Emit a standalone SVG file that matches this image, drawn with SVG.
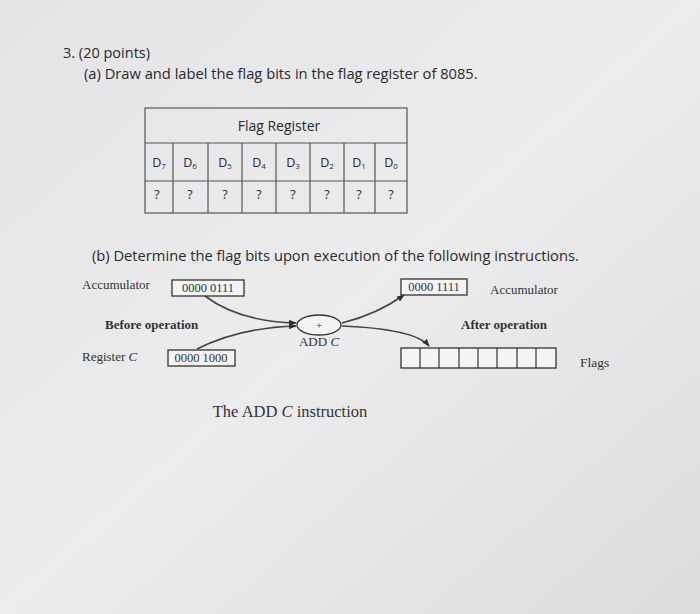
<svg xmlns="http://www.w3.org/2000/svg" width="700" height="614" viewBox="0 0 700 614">
<defs>
<linearGradient id="bg" x1="0" y1="0" x2="1" y2="1"><stop offset="0" stop-color="#e4e4e6"/><stop offset="0.5" stop-color="#ececee"/><stop offset="1" stop-color="#dcdcde"/></linearGradient>
<marker id="ah" markerWidth="8" markerHeight="6" refX="7" refY="3" orient="auto" markerUnits="userSpaceOnUse"><path d="M0,0 L8,3 L0,6 z" fill="#333"/></marker>
<style>
.hw{font-family:"Open Sans","DejaVu Sans",sans-serif;fill:#2a2a2a}
.tb{fill:none;stroke:#555;stroke-width:1.2}
.ser{font-family:"Liberation Serif",serif;fill:#333}
.box{fill:#f4f4f4;stroke:#333;stroke-width:1.3}
.ln{fill:none;stroke:#444;stroke-width:1.6}
</style>
</defs>
<rect width="700" height="614" fill="url(#bg)"/>
<text class="hw" x="63" y="58" font-size="14.5">3. (20 points)</text>
<text class="hw" x="84" y="79" font-size="14.7">(a) Draw and label the flag bits in the flag register of 8085.</text>
<g id="table">
<rect x="145" y="108" width="262" height="105" fill="#f2f2f2" class="tb"/>
<line class="tb" x1="145" y1="143" x2="407" y2="143"/>
<line class="tb" x1="145" y1="181" x2="407" y2="181"/>
<g class="tb">
<line x1="173" y1="143" x2="173" y2="213"/><line x1="208" y1="143" x2="208" y2="213"/><line x1="242" y1="143" x2="242" y2="213"/><line x1="276" y1="143" x2="276" y2="213"/><line x1="310" y1="143" x2="310" y2="213"/><line x1="344" y1="143" x2="344" y2="213"/><line x1="375" y1="143" x2="375" y2="213"/>
</g>
<text class="hw" x="279" y="131" font-size="14" text-anchor="middle">Flag Register</text>
<g font-size="12.5" text-anchor="middle" class="hw">
<text x="159" y="167">D<tspan font-size="8" dy="2">7</tspan></text>
<text x="190" y="167">D<tspan font-size="8" dy="2">6</tspan></text>
<text x="225" y="167">D<tspan font-size="8" dy="2">5</tspan></text>
<text x="259" y="167">D<tspan font-size="8" dy="2">4</tspan></text>
<text x="293" y="167">D<tspan font-size="8" dy="2">3</tspan></text>
<text x="327" y="167">D<tspan font-size="8" dy="2">2</tspan></text>
<text x="359" y="167">D<tspan font-size="8" dy="2">1</tspan></text>
<text x="391" y="167">D<tspan font-size="8" dy="2">0</tspan></text>
<text x="157" y="199">?</text><text x="190" y="199">?</text><text x="225" y="199">?</text><text x="259" y="199">?</text><text x="293" y="199">?</text><text x="327" y="199">?</text><text x="359" y="199">?</text><text x="391" y="199">?</text>
</g>
</g>
<text class="hw" x="92" y="261" font-size="14.7">(b) Determine the flag bits upon execution of the following instructions.</text>
<g id="connectors">
<path class="ln" d="M205,296 C230,315 260,322 296,323" marker-end="url(#ah)"/>
<path class="ln" d="M197,349 C225,335 260,327 296,326" marker-end="url(#ah)"/>
<path class="ln" d="M342,323 C370,316 390,305 404,295" marker-end="url(#ah)"/>
<path class="ln" d="M342,326 C390,328 420,335 429,346" marker-end="url(#ah)"/>
</g>
<g id="acc-before">
<text class="ser" x="82" y="289" font-size="13">Accumulator</text>
<rect class="box" x="172" y="280" width="72" height="16"/>
<text class="ser" x="208" y="292" font-size="12.5" text-anchor="middle">0000 0111</text>
</g>
<text class="ser" x="105" y="329" font-size="13" font-weight="bold">Before operation</text>
<g id="regc">
<text class="ser" x="82" y="361" font-size="13">Register <tspan font-style="italic">C</tspan></text>
<rect class="box" x="168" y="350" width="67" height="16"/>
<text class="ser" x="201" y="362" font-size="12.5" text-anchor="middle">0000 1000</text>
</g>
<g id="add">
<ellipse cx="319" cy="325" rx="22" ry="10" fill="#f4f4f4" stroke="#333" stroke-width="1.3"/>
<text class="ser" x="319" y="329" font-size="11" text-anchor="middle">+</text>
<text class="ser" x="319" y="346" font-size="13" text-anchor="middle">ADD <tspan font-style="italic">C</tspan></text>
</g>
<g id="acc-after">
<rect class="box" x="401" y="279" width="66" height="16"/>
<text class="ser" x="434" y="291" font-size="12.5" text-anchor="middle">0000 1111</text>
<text class="ser" x="490" y="294" font-size="13">Accumulator</text>
</g>
<text class="ser" x="461" y="329" font-size="13" font-weight="bold">After operation</text>
<g id="flags">
<rect class="box" x="401" y="348" width="155" height="20"/>
<g stroke="#333" stroke-width="1.2">
<line x1="420" y1="348" x2="420" y2="368"/><line x1="439" y1="348" x2="439" y2="368"/><line x1="459" y1="348" x2="459" y2="368"/><line x1="478" y1="348" x2="478" y2="368"/><line x1="497" y1="348" x2="497" y2="368"/><line x1="517" y1="348" x2="517" y2="368"/><line x1="536" y1="348" x2="536" y2="368"/>
</g>
<text class="ser" x="580" y="367" font-size="13.5">Flags</text>
</g>
<text class="ser" x="290" y="417" font-size="16.5" text-anchor="middle">The ADD <tspan font-style="italic">C</tspan> instruction</text>
</svg>
